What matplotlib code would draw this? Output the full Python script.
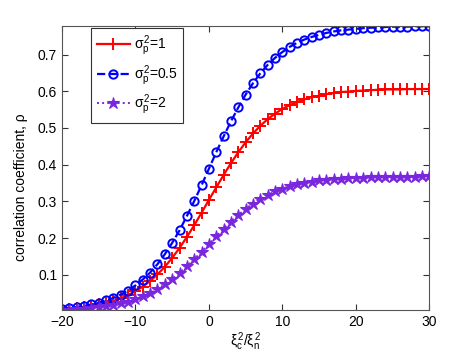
import numpy as np
import matplotlib
matplotlib.use('Agg')
import matplotlib.pyplot as plt

plt.rcParams['font.family'] = ['Liberation Sans', 'DejaVu Sans']
plt.rcParams['mathtext.fontset'] = 'custom'
plt.rcParams['mathtext.rm'] = 'Liberation Sans'
plt.rcParams['mathtext.it'] = 'Liberation Sans'

# x axis: xi_c^2 / xi_n^2
x = list(range(-20, 31))

# sigma_p^2 = 1
rho_1 = [0.006, 0.008, 0.009, 0.012, 0.015, 0.019, 0.023, 0.029, 0.036, 0.045,
         0.055, 0.068, 0.083, 0.101, 0.122, 0.146, 0.173, 0.203, 0.235, 0.269,
         0.304, 0.338, 0.372, 0.404, 0.434, 0.461, 0.485, 0.506, 0.524, 0.539,
         0.552, 0.562, 0.571, 0.578, 0.584, 0.588, 0.592, 0.595, 0.598, 0.599,
         0.601, 0.602, 0.603, 0.604, 0.605, 0.605, 0.605, 0.606, 0.606, 0.606,
         0.606]

# sigma_p^2 = 0.5
rho_05 = [0.008, 0.010, 0.012, 0.015, 0.019, 0.024, 0.030, 0.037, 0.046, 0.057,
          0.071, 0.087, 0.106, 0.129, 0.156, 0.187, 0.221, 0.260, 0.301, 0.344,
          0.389, 0.434, 0.477, 0.518, 0.556, 0.591, 0.622, 0.649, 0.672, 0.691,
          0.707, 0.721, 0.732, 0.741, 0.748, 0.754, 0.759, 0.763, 0.766, 0.768,
          0.770, 0.772, 0.773, 0.774, 0.775, 0.776, 0.776, 0.776, 0.777, 0.777,
          0.777]

# sigma_p^2 = 2
rho_2 = [0.004, 0.005, 0.006, 0.007, 0.009, 0.011, 0.014, 0.018, 0.022, 0.027,
         0.033, 0.041, 0.050, 0.061, 0.074, 0.088, 0.105, 0.123, 0.142, 0.163,
         0.184, 0.205, 0.226, 0.245, 0.263, 0.280, 0.294, 0.307, 0.318, 0.327,
         0.335, 0.341, 0.346, 0.350, 0.354, 0.357, 0.359, 0.361, 0.362, 0.363,
         0.364, 0.365, 0.366, 0.366, 0.367, 0.367, 0.367, 0.367, 0.367, 0.368,
         0.368]

x_ticks = [-20, -10, 0, 10, 20, 30]
y_ticks = [0.1, 0.2, 0.3, 0.4, 0.5, 0.6, 0.7]

purple = '#7A26DE'

fig = plt.figure(figsize=(4.74, 3.56), dpi=100)
ax = fig.add_axes([0.1308, 0.1292, 0.7749, 0.7969])

ax.plot(x, rho_1, '-', color='red', lw=1.6, marker='+', ms=8, mew=1.4,
        label=r'$\sigma_p^2$=1')
ax.plot(x, rho_05, '--', color='blue', lw=1.6, marker='o', ms=6, mew=1.4,
        mfc='none', label=r'$\sigma_p^2$=0.5')
ax.plot(x, rho_2, ':', color=purple, lw=1.4, marker='*', ms=9, mew=0.8,
        label=r'$\sigma_p^2$=2')

ax.set_xlim(-20, 30)
ax.set_ylim(min(rho_2), max(rho_05))
ax.set_xticks(x_ticks)
ax.set_yticks(y_ticks)
ax.tick_params(direction='in', top=True, right=True, length=4, width=0.8,
               labelsize=10, colors='#333333', labelcolor='black')
for sp in ax.spines.values():
    sp.set_color('#555555')
    sp.set_linewidth(0.8)

ax.set_xlabel(r'$\xi_c^2/\xi_n^2$', fontsize=10)
ax.set_ylabel('correlation coefficient, ρ', fontsize=10)
ax.yaxis.set_label_coords(-0.093, 0.434)
ax.xaxis.set_label_coords(0.5, -0.072)

leg = ax.legend(loc='upper left', bbox_to_anchor=(0.079, 0.993), fontsize=10,
                handlelength=2.4, fancybox=False, framealpha=1,
                edgecolor='#333333', labelspacing=0.35, borderpad=0.4,
                borderaxespad=0, handletextpad=0.3)
leg.get_frame().set_linewidth(0.8)

fig.savefig('out.png', dpi=100)
